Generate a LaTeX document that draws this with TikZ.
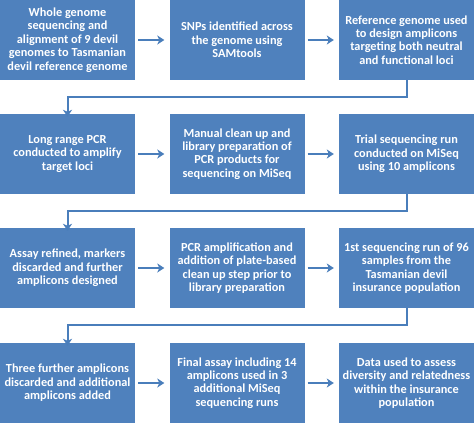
\documentclass[tikz,border=0pt]{standalone}
\usepackage{fontspec}
\setmainfont{Carlito}
\usetikzlibrary{arrows.meta}
\definecolor{boxblue}{HTML}{4F81BD}
\definecolor{arrblue}{HTML}{4A7EBB}
\begin{document}
\begin{tikzpicture}[x=1pt,y=-1pt,
  stepbox/.style={fill=boxblue, draw=none, minimum width=135pt, minimum height=80pt,
    align=center, text=white, font=\fontsize{12.3pt}{13.4pt}\selectfont\bfseries, inner sep=0pt},
  conn/.style={draw=arrblue, line width=2pt, -{Stealth[length=7pt,width=9pt,inset=2pt]}}]
\useasboundingbox (0,0) rectangle (474,423);
\def\ca{67.5}\def\cb{237}\def\cc{406.5}
\def\ra{40}\def\rb{154}\def\rc{268}\def\rd{383}
\node[stepbox] (a1) at (\ca,\ra) {Whole genome\\sequencing and\\alignment of 9 devil\\genomes to Tasmanian\\devil reference genome};
\node[stepbox] (a2) at (\cb,\ra) {SNPs identified across\\the genome using\\SAMtools};
\node[stepbox] (a3) at (\cc,\ra) {Reference genome used\\to design amplicons\\targeting both neutral\\and functional loci};
\node[stepbox] (b1) at (\ca,\rb) {Long range PCR\\conducted to amplify\\target loci};
\node[stepbox] (b2) at (\cb,\rb) {Manual clean up and\\library preparation of\\PCR products for\\sequencing on MiSeq};
\node[stepbox] (b3) at (\cc,\rb) {Trial sequencing run\\conducted on MiSeq\\using 10 amplicons};
\node[stepbox] (c1) at (\ca,\rc) {Assay refined, markers\\discarded and further\\amplicons designed};
\node[stepbox] (c2) at (\cb,\rc) {PCR amplification and\\addition of plate-based\\clean up step prior to\\library preparation};
\node[stepbox] (c3) at (\cc,\rc) {1st sequencing run of 96\\samples from the\\Tasmanian devil\\insurance population};
\node[stepbox] (d1) at (\ca,\rd) {Three further amplicons\\discarded and additional\\amplicons added};
\node[stepbox] (d2) at (\cb,\rd) {Final assay including 14\\amplicons used in 3\\additional MiSeq\\sequencing runs};
\node[stepbox] (d3) at (\cc,\rd) {Data used to assess\\diversity and relatedness\\within the insurance\\population};
\foreach \r in {a,b,c,d}{
  \draw[conn] ([xshift=3pt]\r1.east) -- ([xshift=-5pt]\r2.west);
  \draw[conn] ([xshift=3pt]\r2.east) -- ([xshift=-5pt]\r3.west);
}
\draw[conn] (a3.south) -- ++(0,17) -| ([yshift=-3pt]b1.north);
\draw[conn] (b3.south) -- ++(0,17) -| ([yshift=-3pt]c1.north);
\draw[conn] (c3.south) -- ++(0,17) -| ([yshift=-3pt]d1.north);
\end{tikzpicture}
\end{document}
